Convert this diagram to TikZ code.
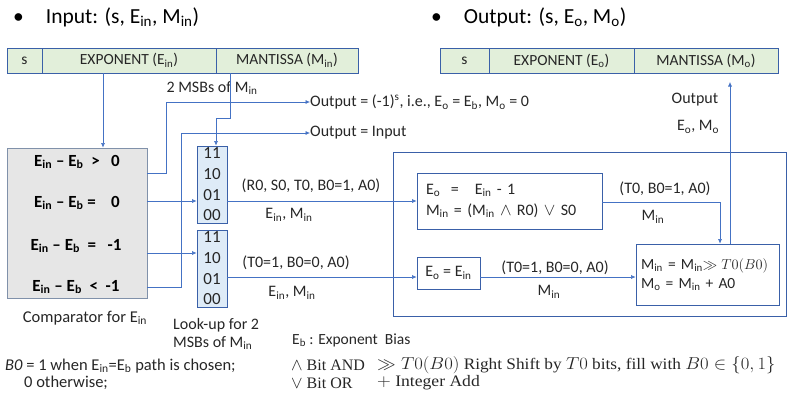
\documentclass[tikz,border=0pt]{standalone}
\usepackage[no-math]{fontspec}
\setmainfont{Carlito}
\newfontfamily\legendfont{Liberation Serif}
\usepackage{amsmath,amssymb}
\usetikzlibrary{arrows.meta,positioning,calc}
\definecolor{lineblue}{RGB}{68,114,196}
\definecolor{boxblue}{RGB}{58,96,168}
\definecolor{fieldgreen}{RGB}{226,239,218}
\definecolor{lutblue}{RGB}{222,235,247}
\definecolor{cmpgray}{RGB}{230,230,230}
\definecolor{cmpedge}{RGB}{128,145,170}
\definecolor{inktext}{RGB}{38,38,38}
\newcommand{\subtx}[1]{\textsubscript{#1}}
\tikzset{
  field/.style={draw=boxblue,fill=fieldgreen,line width=0.8pt,minimum height=25pt,inner sep=0pt,outer sep=0pt,text=inktext,font=\fontsize{15.5}{18}\selectfont},
  cmpbox/.style={draw=cmpedge,fill=cmpgray,line width=0.8pt,minimum width=140pt,minimum height=150pt,inner sep=0pt},
  cmprow/.style={inner sep=0pt,text=black,font=\bfseries\fontsize{17}{20}\selectfont},
  lut/.style={draw=boxblue,fill=lutblue,line width=0.8pt,minimum width=30pt,minimum height=77pt,inner sep=0pt,align=center,text=inktext,font=\fontsize{17}{20.7}\selectfont},
  opbox/.style={draw=boxblue,line width=0.8pt,inner xsep=9pt,inner ysep=0pt,align=left,text=inktext,font=\fontsize{16}{19.5}\selectfont},
  wire/.style={draw=lineblue,line width=0.6pt,-{Latex[length=4.5pt,width=4pt]}},
  lbl/.style={inner sep=0pt,text=inktext,font=\fontsize{16}{18}\selectfont},
  heading/.style={anchor=west,inner sep=0pt,text=black,font=\fontsize{21.5}{26}\selectfont},
  keytext/.style={anchor=west,inner sep=0pt,text=inktext,font=\legendfont\fontsize{16}{18}\selectfont}
}

\begin{document}
\begin{tikzpicture}[x=1pt,y=-1pt]
    \useasboundingbox (0,0) rectangle (792,399);
    % Headings
    \node[heading] (inHead) at (13,17) {\textbullet\hskip22pt Input: (s, E\subtx{in}, M\subtx{in})};
    \node[heading] (outHead) at (431,17) {\textbullet\hskip22pt Output: (s, E\subtx{o}, M\subtx{o})};
    % Input word
    \node[field,minimum width=35pt] (inS) at (24.5,60.5) {s};
    \node[field,minimum width=174pt,right=0pt of inS] (inExp) {EXPONENT (E\subtx{in})};
    \node[field,minimum width=142pt,right=0pt of inExp] (inMan) {MANTISSA (M\subtx{in})};
    % Output word
    \node[field,minimum width=49pt] (outS) at (464.5,60.5) {s};
    \node[field,minimum width=145pt,right=0pt of outS] (outExp) {EXPONENT (E\subtx{o})};
    \node[field,minimum width=144pt,right=0pt of outExp] (outMan) {MANTISSA (M\subtx{o})};
    % Comparator
    \node[cmpbox] (cmp) at (77,223) {};
    \node[cmprow] (rowGt) at (77,162) {E\subtx{in} -- E\subtx{b}\ \ >\ \ \ 0};
    \node[cmprow] (rowEq) at (77,203) {E\subtx{in} -- E\subtx{b} =\ \ \ \ 0};
    \node[cmprow] (rowM1) at (76,246) {E\subtx{in} -- E\subtx{b}\ \ =\ \ \ -1};
    \node[cmprow] (rowLt) at (76,287) {E\subtx{in} -- E\subtx{b}\ \ <\ \ -1};
    \node[lbl,font=\fontsize{16.5}{18}\selectfont] (cmpCap) at (85,318) {Comparator for E\subtx{in}};
    % Look-up tables
    \node[lut] (lutA) at (212,184.5) {11\\10\\01\\00};
    \node[lut] (lutB) at (212,268.5) {11\\10\\01\\00};
    \node[lbl,anchor=west,align=left,font=\fontsize{16}{18}\selectfont] (lutCap) at (173,334) {Look-up for 2\\MSBs of M\subtx{in}};
    % Direct outputs
    \node[lbl,anchor=west] (out1) at (310,102) {Output = (-1)\textsuperscript{s}, i.e., E\subtx{o} = E\subtx{b}, M\subtx{o} = 0};
    \node[lbl,anchor=west] (out2) at (310,133) {Output = Input};
    \node[lbl] (msbLbl) at (212,88) {2 MSBs of M\subtx{in}};
    % Operation blocks
    \node[draw=boxblue,line width=0.8pt,minimum width=393pt,minimum height=164pt,inner sep=0pt] (core) at (589.5,234) {};
    \node[opbox,text width=167pt,minimum height=56pt,font=\fontsize{16}{21}\selectfont] (boxA) at (509.5,201) {E\subtx{o} \ =\ \ \ E\subtx{in} - 1\\M\subtx{in} = (M\subtx{in} $\wedge$ R0) $\vee$\ S0};
    \node[opbox,minimum width=63pt,minimum height=32pt,inner xsep=0pt,align=center] (boxB) at (448.5,273) {E\subtx{o} = E\subtx{in}};
    \node[opbox,text width=133pt,inner xsep=5pt,minimum height=61pt,font=\fontsize{15.5}{19}\selectfont] (boxC) at (707.5,274.5) {M\subtx{in} = M\subtx{in}$\gg T0(B0)$\\M\subtx{o} = M\subtx{in} + A0};
    % Connections
    \coordinate (expTap) at (103,73);
    \coordinate (outTap) at (730,82);
    \draw[wire] (expTap) -- (expTap |- cmp.north);
    \draw[wire] (inMan.south -| 230,0) |- (216,118) -- (lutA.north -| 216,0);
    \draw[wire] (cmp.east |- 0,173) -- (166,173) |- (out1.west);
    \draw[wire] (cmp.east |- 0,287) -- (181,287) |- (out2.west);
    \draw[wire] (cmp.east |- 0,201) -- (lutA.west |- 0,201);
    \draw[wire] (cmp.east |- 0,253) -- (lutB.west |- 0,253);
    \draw[wire] (lutA.east |- boxA.west) -- (boxA.west);
    \draw[wire] (lutB.east |- 0,277) -- (boxB.west |- 0,277);
    \draw[wire] (boxA.east |- 0,202) -| (boxC.north -| 720,0);
    \draw[wire] (boxB.east |- 0,277) -- (boxC.west |- 0,277);
    \draw[wire] (boxC.north -| outTap) -- (outTap);
    % Wire labels
    \node[lbl] (lutAParm) at (311,186) {(R0, S0, T0, B0=1, A0)};
    \node[lbl] (lutAData) at (289,215) {E\subtx{in}, M\subtx{in}};
    \node[lbl] (lutBParm) at (296,263) {(T0=1, B0=0, A0)};
    \node[lbl] (lutBData) at (292,293) {E\subtx{in}, M\subtx{in}};
    \node[lbl] (boxAParm) at (665,189) {(T0, B0=1, A0)};
    \node[lbl] (boxAData) at (653,217) {M\subtx{in}};
    \node[lbl] (boxBParm) at (555,268) {(T0=1, B0=0, A0)};
    \node[lbl] (boxBData) at (549,292) {M\subtx{in}};
    \node[lbl] (resLbl) at (695,100) {Output};
    \node[lbl] (resData) at (698,127) {E\subtx{o}, M\subtx{o}};
    % Legend
    \node[lbl,anchor=west,font=\fontsize{15.5}{18}\selectfont] (biasKey) at (292,340) {E\subtx{b} : Exponent\ \ Bias};
    \node[keytext] (andKey) at (291,365) {$\wedge$\ Bit AND};
    \node[keytext] (orKey) at (291,383) {$\vee$\ Bit OR};
    \node[keytext] (shiftKey) at (377,365) {\scalebox{1.08}[1]{$\gg T0(B0)$ Right Shift by $T0$ bits, fill with $B0\in\{0,1\}$}};
    \node[keytext] (addKey) at (377,383) {\scalebox{1.1}[1]{$+$ Integer Add}};
    \node[lbl,anchor=west,font=\fontsize{16.5}{18}\selectfont] (bNote) at (5,366) {\textit{B0} = 1 when E\subtx{in}=E\subtx{b} path is chosen;};
    \node[lbl,anchor=west,font=\fontsize{16.5}{18}\selectfont] (bNote2) at (24,383) {0 otherwise;};
\end{tikzpicture}
\end{document}
